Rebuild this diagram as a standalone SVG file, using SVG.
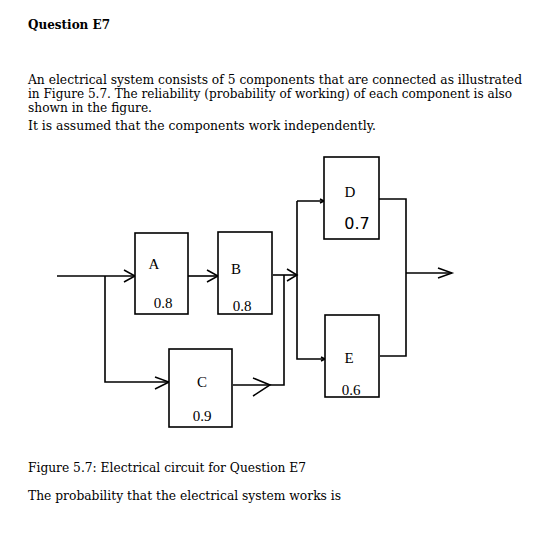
<svg xmlns="http://www.w3.org/2000/svg" width="544" height="542" viewBox="0 0 544 542">
<style>
.t{font-family:"DejaVu Serif","Liberation Serif",serif;font-size:12px;fill:#000}
.b{font-weight:bold}
.box{fill:#fff;stroke:#000;stroke-width:1.6}
.lbl{font-family:"Liberation Serif",serif;font-size:15px;fill:#000;text-anchor:middle}
.w{fill:none;stroke:#000;stroke-width:1.6}
.ah{fill:none;stroke:#000;stroke-width:1.5}
</style>
<rect width="544" height="542" fill="#fff"/>
<text class="t b" x="28" y="29" textLength="82" lengthAdjust="spacingAndGlyphs">Question E7</text>
<text class="t" x="28" y="84" textLength="494" lengthAdjust="spacingAndGlyphs">An electrical system consists of 5 components that are connected as illustrated</text>
<text class="t" x="28" y="98" textLength="484" lengthAdjust="spacingAndGlyphs">in Figure 5.7. The reliability (probability of working) of each component is also</text>
<text class="t" x="28" y="112" textLength="124" lengthAdjust="spacingAndGlyphs">shown in the figure.</text>
<text class="t" x="28" y="130" textLength="348" lengthAdjust="spacingAndGlyphs">It is assumed that the components work independently.</text>

<g id="connectors">
<path class="w" d="M57 276H135"/>
<path class="w" d="M105 276V382H169"/>
<path class="w" d="M188 276H218"/>
<path class="w" d="M273 275H297"/>
<path class="w" d="M233 385H284V275"/>
<path class="w" d="M297 201H324M297 201V359H325"/>
<path class="w" d="M379 199H406V356H380"/>
<path class="w" d="M406 273H452"/>
<path class="ah" d="M124 270L135 276L124 282"/>
<path class="ah" d="M207 270L218 276L207 282"/>
<path class="ah" d="M287 269L297 275L287 281"/>
<path class="ah" d="M155 377L169 382L155 389"/>
<path class="ah" d="M253 378L270 385L253 396"/>
<path class="ah" d="M438 268L452 273L438 278"/>
<path class="ah" d="M320 199L324 201L320 203"/>
<path class="ah" d="M321 357L325 359L321 361"/>
</g>

<g id="A"><rect class="box" x="135" y="233" width="53" height="81"/><text class="lbl" x="154" y="269">A</text><text class="lbl" x="163" y="308">0.8</text></g>
<g id="B"><rect class="box" x="218" y="232" width="54" height="82"/><text class="lbl" x="236" y="274">B</text><text class="lbl" x="242" y="311">0.8</text></g>
<g id="C"><rect class="box" x="169" y="349" width="63" height="78"/><text class="lbl" x="202" y="387">C</text><text class="lbl" x="202" y="421">0.9</text></g>
<g id="D"><rect class="box" x="324" y="157" width="55" height="82"/><text class="lbl" x="350" y="197">D</text><text class="lbl" x="357" y="229" style="font-family:'DejaVu Sans',sans-serif;font-size:16px">0.7</text></g>
<g id="E"><rect class="box" x="325" y="315" width="54" height="82"/><text class="lbl" x="349" y="363">E</text><text class="lbl" x="351" y="395">0.6</text></g>

<text class="t" x="28" y="472" textLength="278" lengthAdjust="spacingAndGlyphs">Figure 5.7: Electrical circuit for Question E7</text>
<text class="t" x="28" y="500" textLength="313" lengthAdjust="spacingAndGlyphs">The probability that the electrical system works is</text>
</svg>
